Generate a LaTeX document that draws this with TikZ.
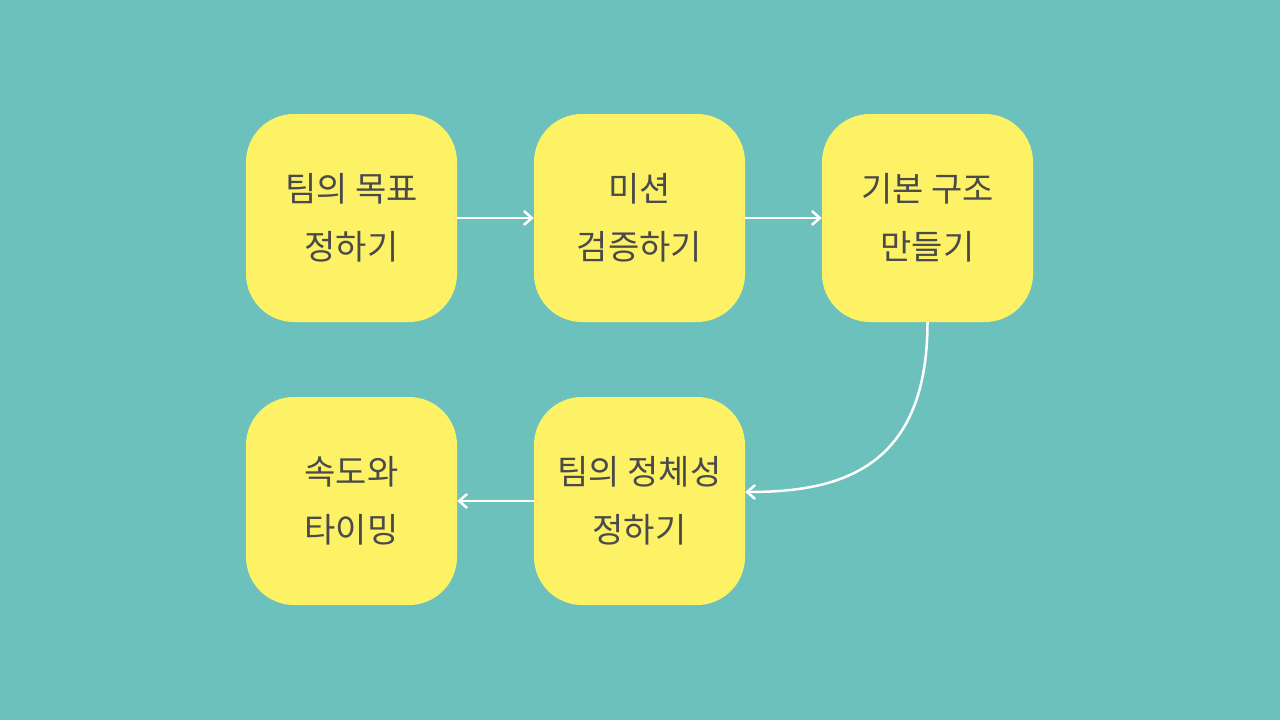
\documentclass[tikz,border=0pt]{standalone}
\usepackage{fontspec}
\newfontfamily\kr{Noto Sans CJK KR}
\usetikzlibrary{arrows.meta}
\definecolor{bg}{HTML}{6CC1BC}
\definecolor{boxc}{HTML}{FDF266}
\definecolor{txt}{HTML}{4A4A4A}
\begin{document}
\begin{tikzpicture}[x=1pt,y=-1pt,
  card/.style={fill=boxc,rounded corners=48pt,minimum width=211pt,minimum height=208pt,inner sep=0pt,
    text=txt,align=center,font=\kr\fontsize{34}{58}\selectfont},
  conn/.style={white,line width=2.5pt,-{Straight Barb[length=8pt,width=14pt,line width=2.5pt]}}]
\useasboundingbox[fill=bg] (0,0) rectangle (1280,720);
\node[card] (a) at (351.5,218) {팀의 목표\\정하기};
\node[card] (b) at (639.5,218) {미션\\검증하기};
\node[card] (c) at (927.5,218) {기본 구조\\만들기};
\node[card] (d) at (351.5,501) {속도와\\타이밍};
\node[card] (e) at (639.5,501) {팀의 정체성\\정하기};
\draw[conn] (a.east) -- (b.west);
\draw[conn] (b.east) -- (c.west);
\draw[conn] (c.south) .. controls +(0,150) and +(90,0) .. ([yshift=9pt]e.east);
\draw[conn] (e.west) -- (d.east);
\end{tikzpicture}
\end{document}
